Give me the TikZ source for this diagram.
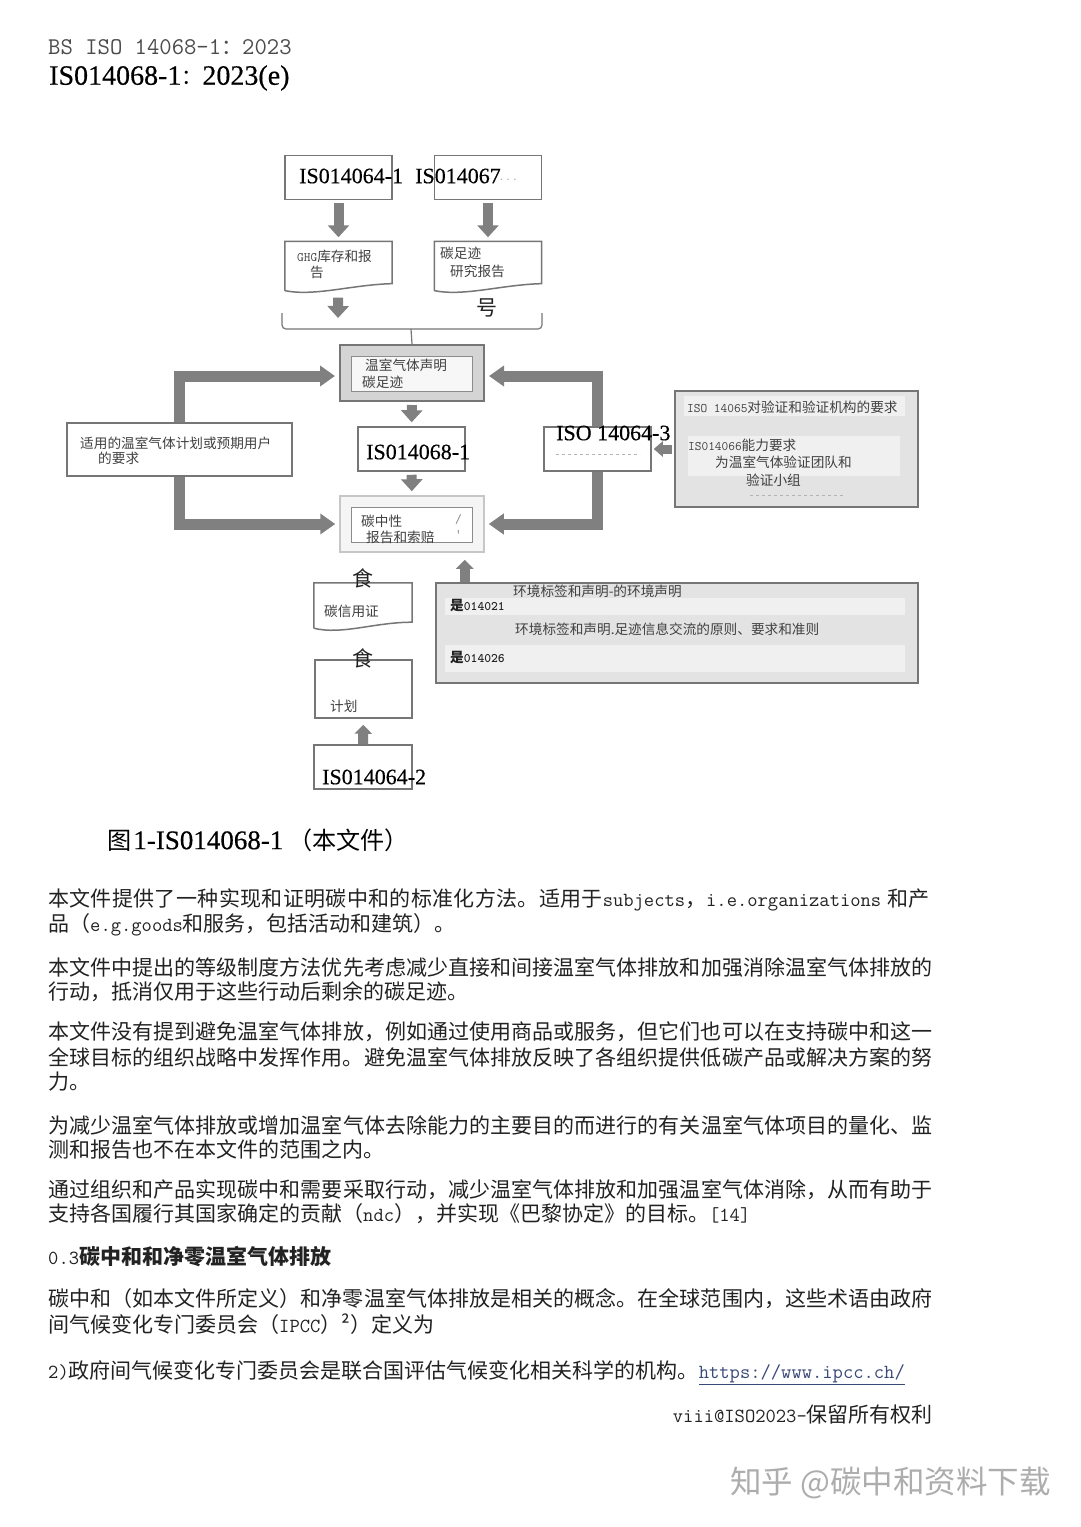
\documentclass[tikz,border=0pt]{standalone}
\usepackage{fontspec}
\usetikzlibrary{arrows.meta,positioning}
\newfontfamily\cjk[Scale=1.05]{Noto Sans CJK SC}
\newfontfamily\isofont[FakeBold=0.4]{Liberation Serif}
\newcommand{\zh}[1]{{\cjk #1}}
\newcommand{\fullline}[1]{{\parfillskip=0pt #1\par}}
\XeTeXlinebreaklocale "zh"
\XeTeXlinebreakskip=0pt plus 4pt
\definecolor{frame}{HTML}{767676}
\definecolor{arrowgray}{HTML}{808080}
\definecolor{ink}{HTML}{222222}
\tikzset{
  boxnode/.style={draw=frame,line width=1.5pt,fill=white,inner sep=0pt,minimum width=107pt,minimum height=44pt},
  docnode/.style={inner sep=0pt,minimum width=107pt,minimum height=49pt},
  docline/.style={draw=frame,line width=1.5pt,fill=white},
  graynode/.style={draw=frame,line width=2pt,fill=black!11,inner sep=0pt},
  fatarrow/.style={draw=arrowgray,line width=10pt,-{Triangle[length=12pt,width=21pt]},shorten >=4pt,shorten <=3pt},
  bigarrow/.style={draw=arrowgray,line width=11pt,line join=miter,-{Triangle[length=15pt,width=20pt]},shorten >=4pt},
  isotxt/.style={font=\fontsize{22}{24}\selectfont\isofont,text=black,inner sep=0pt,anchor=west},
  smalltxt/.style={font=\fontsize{13}{16}\selectfont\ttfamily,text=black!75,inner sep=0pt,anchor=west},
  fulltxt/.style={font=\fontsize{20}{24}\selectfont\ttfamily,text=ink,inner sep=0pt,anchor=west,text width=885pt},
  bodytxt/.style={font=\fontsize{20}{24}\selectfont\ttfamily,text=ink,inner sep=0pt,anchor=west},
  fainttxt/.style={draw=black!30,line width=1pt,dashed},
  patch/.style={fill=black!6,draw=none}
}
\begin{document}
\begin{tikzpicture}[x=1pt,y=-1pt]
\useasboundingbox (0,0) rectangle (1080,1527);
\fill[white] (0,0) rectangle (1080,1527);
% page head
\node[bodytxt,font=\fontsize{24}{26}\selectfont\ttfamily,text=black!70] (heada) at (48,47) {BS ISO 14068-1{\fontsize{20}{24}\selectfont\zh{：}}2023};
\node[isotxt,font=\fontsize{28}{30}\selectfont\isofont] (headb) at (49,78) {IS014068-1{\fontsize{20}{24}\selectfont\zh{：}}2023(e)};
% top row
\node[boxnode] (isoa) at (338.5,177.5) {};
\node[boxnode,right=41pt of isoa] (isob) {};
\node[docnode,below=41pt of isoa.south,anchor=north] (ghg) {};
\node[docnode,below=41pt of isob.south,anchor=north] (cfp) {};
\draw[docline] (ghg.south west) -- (ghg.north west) -- (ghg.north east) -- ([yshift=7pt]ghg.south east)
  .. controls ([xshift=-40pt,yshift=6pt]ghg.south east) and ([xshift=30pt,yshift=-6pt]ghg.south west) .. (ghg.south west);
\draw[docline] (cfp.south west) -- (cfp.north west) -- (cfp.north east) -- ([yshift=7pt]cfp.south east)
  .. controls ([xshift=-40pt,yshift=6pt]cfp.south east) and ([xshift=30pt,yshift=-6pt]cfp.south west) .. (cfp.south west);
\node[isotxt] (isoatxt) at (299,176) {IS014064-1};
\node[isotxt] (isobtxt) at (415,176) {IS014067};
\node[smalltxt,text=black!35] (isobdots) at (498,180) {...};
\node[smalltxt] (ghgtxta) at (297,256) {GHG\zh{库存和报}};
\node[smalltxt] (ghgtxtb) at (310,272) {\zh{告}};
\node[smalltxt] (cfptxta) at (440,253) {\zh{碳足迹}};
\node[smalltxt] (cfptxtb) at (450,271) {\zh{研究报告}};
\node[bodytxt] (hao) at (476,308) {\zh{号}};
\draw[fatarrow] (isoa) -- (ghg);
\draw[fatarrow] (isob) -- (cfp);
% brace over the claim box
\coordinate (bracea) at (282,313);
\coordinate (braceb) at (282,329);
\coordinate (bracec) at (542,329);
\coordinate (braced) at (542,313);
\coordinate (bracee) at (411,329);
\coordinate (arrowend) at (338,322);
\draw[fatarrow,shorten <=7pt,shorten >=4pt] (ghg) -- (arrowend);
% centre column
\node[draw=frame,line width=2pt,fill=black!17,inner sep=0pt,minimum width=144pt,minimum height=56pt] (claim) at (412,373) {};
\node[draw=black!45,line width=1pt,fill=black!3,inner sep=0pt,minimum width=121pt,minimum height=35pt] (claimin) at (412,373.5) {};
\node[boxnode] (isoc) at (411.5,449) {};
\node[draw=black!22,line width=1.5pt,fill=black!4,inner sep=0pt,minimum width=144pt,minimum height=56pt] (neutral) at (412,524) {};
\node[draw=black!45,line width=1pt,fill=white,inner sep=0pt,minimum width=121pt,minimum height=35pt] (neutralin) at (412,524.5) {};
\draw[frame,line width=1.2pt,rounded corners=4pt] (bracea) -- (braceb) -- (bracec) -- (braced);
\draw[frame,line width=1.2pt] (bracee) -- (claim.north);
\node[smalltxt] (claimtxta) at (365,365) {\zh{温室气体声明}};
\node[smalltxt] (claimtxtb) at (362,382) {\zh{碳足迹}};
\node[isotxt] (isoctxt) at (366,452) {IS014068-1};
\node[smalltxt] (neutraltxta) at (361,521) {\zh{碳中性}};
\node[smalltxt] (neutraltxtb) at (366,537) {\zh{报告和索赔}};
\node[smalltxt,text=black!50] (neutralmarka) at (455,520) {/};
\node[smalltxt,text=black!50] (neutralmarkb) at (455,534) {'};
\draw[fatarrow] (claim) -- (isoc);
\draw[fatarrow] (isoc) -- (neutral);
% left requirements box
\node[boxnode,minimum width=225pt,minimum height=53pt] (req) at (179.5,449.5) {};
\node[smalltxt] (reqtxta) at (80,443) {\zh{适用的温室气体计划或预期用户}};
\node[smalltxt] (reqtxtb) at (98,458) {\zh{的要求}};
\draw[bigarrow] (req.north) |- ([yshift=-3pt]claim.west);
\draw[bigarrow] (req.south) |- (neutral.west);
% right column
\node[boxnode] (isod) at (597.5,449) {};
\node[isotxt] (isodtxt) at (556,433) {ISO 14064-3};
\draw[fainttxt] (556,454) -- (640,454);
\draw[bigarrow] (isod.north) |- ([yshift=-3pt]claim.east);
\draw[bigarrow] (isod.south) |- (neutral.east);
\node[graynode,minimum width=243pt,minimum height=116pt] (verify) at (796.5,449) {};
\fill[patch] (684,396) rectangle (905,416);
\fill[patch] (688,436) rectangle (900,476);
\draw[fatarrow,shorten >=2pt,shorten <=2pt,line width=9pt,-{Triangle[length=9pt,width=15pt]}] (verify.west) -- (isod.east);
\node[smalltxt] (verifytxta) at (687,407) {ISO 14065\zh{对验证和验证机构的要求}};
\node[smalltxt] (verifytxtb) at (688,445) {IS014066\zh{能力要求}};
\node[smalltxt] (verifytxtc) at (715,462) {\zh{为温室气体验证团队和}};
\node[smalltxt] (verifytxtd) at (746,480) {\zh{验证小组}};
\draw[fainttxt,line width=.8pt] (750,495) -- (845,495);
% bottom column
\node[docnode,minimum width=98pt,minimum height=45pt] (credit) at (363,605.5) {};
\draw[docline] (credit.south west) -- (credit.north west) -- (credit.north east) -- ([yshift=6pt]credit.south east)
  .. controls ([xshift=-38pt,yshift=6pt]credit.south east) and ([xshift=28pt,yshift=-7pt]credit.south west) .. (credit.south west);
\node[smalltxt] (credittxt) at (324,611) {\zh{碳信用证}};
\node[bodytxt] (fooda) at (352,578) {\zh{食}};
\node[boxnode,minimum width=97pt,minimum height=58pt] (plan) at (363.5,689) {};
\node[smalltxt] (plantxt) at (330,706) {\zh{计划}};
\node[bodytxt] (foodb) at (352,658) {\zh{食}};
\node[boxnode,minimum width=98pt] (isoe) at (363,767) {};
\node[isotxt] (isoetxt) at (322,777) {IS014064-2};
\draw[fatarrow,shorten <=0pt,shorten >=6pt,-{Triangle[length=9pt,width=17pt]}] (isoe) -- (plan);
% label box
\node[graynode,minimum width=482pt,minimum height=100pt] (label) at (677,633) {};
\fill[patch] (445,598) rectangle (905,615);
\fill[patch] (445,645) rectangle (905,672);
\draw[fatarrow,shorten <=0pt,shorten >=7pt,-{Triangle[length=9pt,width=17pt]}] ([xshift=-20pt]neutral.south east |- label.north) -- ([xshift=-20pt]neutral.south east);
\node[smalltxt] (labeltxta) at (513,591) {\zh{环境标签和声明-的环境声明}};
\node[smalltxt,font=\fontsize{13}{16}\selectfont\ttfamily\bfseries,text=ink] (labeltxtb) at (450,606) {\zh{是}014021};
\node[smalltxt] (labeltxtc) at (515,629) {\zh{环境标签和声明.足迹信息交流的原则、要求和准则}};
\node[smalltxt,font=\fontsize{13}{16}\selectfont\ttfamily\bfseries,text=ink] (labeltxtd) at (450,658) {\zh{是}014026};
% caption
\node[isotxt,font=\fontsize{27}{30}\selectfont\isofont] (caption) at (107,840) {{\fontsize{23}{26}\selectfont\zh{图}}\kern2pt 1-IS014068-1\kern5pt{\fontsize{23}{26}\selectfont\zh{（本文件）}}};
% page text
\node[fulltxt] (parona) at (48,900) {\fullline{\zh{本文件提供了一种实现和证明碳中和的标准化方法。适用于}subjects\zh{，}i.e.organizations\kern6pt\zh{和产}}};
\node[bodytxt] (paronb) at (48,925) {\zh{品（}e.g.goods\zh{和服务，包括活动和建筑）。}};
\node[fulltxt] (partwa) at (48,967) {\fullline{\zh{本文件中提出的等级制度方法优先考虑减少直接和间接温室气体排放和加强消除温室气体排放的}}};
\node[bodytxt] (partwb) at (48,992) {\zh{行动，抵消仅用于这些行动后剩余的碳足迹。}};
\node[fulltxt] (partha) at (48,1032) {\fullline{\zh{本文件没有提到避免温室气体排放，例如通过使用商品或服务，但它们也可以在支持碳中和这一}}};
\node[fulltxt] (parthb) at (48,1057) {\fullline{\zh{全球目标的组织战略中发挥作用。避免温室气体排放反映了各组织提供低碳产品或解决方案的努}}};
\node[bodytxt] (parthc) at (48,1082) {\zh{力。}};
\node[fulltxt] (parfoa) at (48,1125) {\fullline{\zh{为减少温室气体排放或增加温室气体去除能力的主要目的而进行的有关温室气体项目的量化、监}}};
\node[bodytxt] (parfob) at (48,1150) {\zh{测和报告也不在本文件的范围之内。}};
\node[fulltxt] (parfia) at (48,1190) {\fullline{\zh{通过组织和产品实现碳中和需要采取行动，减少温室气体排放和加强温室气体消除，从而有助于}}};
\node[bodytxt] (parfib) at (48,1214) {\zh{支持各国履行其国家确定的贡献（}ndc\zh{），并实现《巴黎协定》的目标。}[14]};
\node[bodytxt] (section) at (48,1257) {0.3\zh{\bfseries 碳中和和净零温室气体排放}};
\node[fulltxt] (parsia) at (48,1299) {\fullline{\zh{碳中和（如本文件所定义）和净零温室气体排放是相关的概念。在全球范围内，这些术语由政府}}};
\node[bodytxt] (parsib) at (48,1324) {\zh{间气候变化专门委员会（}IPCC\zh{）²）定义为}};
\node[bodytxt] (foot) at (48,1373) {2)\zh{政府间气候变化专门委员会是联合国评估气候变化相关科学的机构。}\textcolor[HTML]{3A4A78}{\underline{https://www.ipcc.ch/}}};
\node[bodytxt,anchor=east] (rights) at (933,1415) {viii@ISO2023-\zh{保留所有权利}};
\node[bodytxt,font=\fontsize{30}{34}\selectfont\cjk,text=black!32] (mark) at (730,1483) {知乎 @碳中和资料下载};
\end{tikzpicture}
\end{document}
